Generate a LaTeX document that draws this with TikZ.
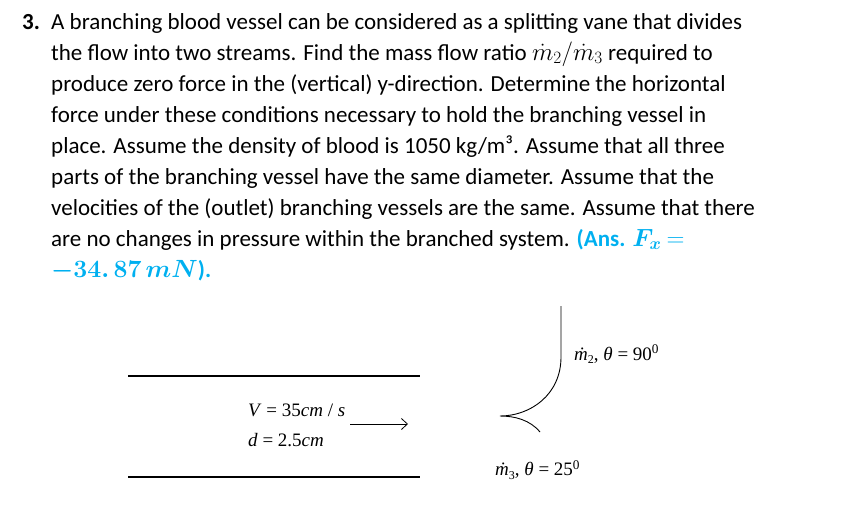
\documentclass[tikz,border=0pt]{standalone}
\usepackage{amsmath}
\usepackage{fontspec}
\setmainfont{Carlito}
\newfontfamily\tnr{Liberation Serif}
\usepackage{bm}
\usetikzlibrary{arrows.meta}
\definecolor{ansblue}{RGB}{0,176,240}
\newcommand{\mdt}[1]{\textit{\.m}\raisebox{-0.35ex}{\fontsize{12}{12}\selectfont #1}}
\begin{document}
\begin{tikzpicture}[x=1pt,y=-1pt,
  ln/.style={anchor=base west,inner sep=0pt,font=\fontsize{23}{27}\selectfont},
  lab/.style={inner sep=0pt,font=\tnr\fontsize{19}{21}\selectfont},
  wall/.style={line width=1.2pt}]
\useasboundingbox (0,0) rectangle (848,531);
\node[ln] (n) at (22,29) {\textbf{3.}};
\node[ln] (l1) at (51,29) {A branching blood vessel can be considered as a splitting vane that divides};
\node[ln] (l2) at (51,60) {the flow into two streams. Find the mass flow ratio $\dot m_2/\dot m_3$ required to};
\node[ln] (l3) at (51,91) {produce zero force in the (vertical) y-direction. Determine the horizontal};
\node[ln] (l4) at (51,122) {force under these conditions necessary to hold the branching vessel in};
\node[ln] (l5) at (51,153) {place. Assume the density of blood is 1050 kg/m³. Assume that all three};
\node[ln] (l6) at (51,184) {parts of the branching vessel have the same diameter. Assume that the};
\node[ln] (l7) at (51,215) {velocities of the (outlet) branching vessels are the same. Assume that there};
\node[ln] (l8) at (51,246) {are no changes in pressure within the branched system. \textcolor{ansblue}{\textbf{(Ans. $\bm{F_x}$} $=$}};
\node[ln,text=ansblue] (l9) at (51,277) {$\bm{-34.\,87\,mN}$\textbf{).}};
\draw[wall] (128,376) coordinate (t1) -- (420,376) coordinate (t2);
\draw[wall] (128,477) coordinate (b1) -- (420,477) coordinate (b2);
\node[lab,anchor=west] (v) at (248,410) {\textit{V} = 35\textit{cm} / \textit{s}};
\node[lab,anchor=west] (d) at (248,440) {\textit{d} = 2.5\textit{cm}};
\coordinate (a1) at (350,424); \coordinate (a2) at (408,424);
\draw[-{Straight Barb[length=6pt,width=11pt]},line width=0.8pt] (a1) -- (a2);
\coordinate (p1) at (561,306); \coordinate (p2) at (561,357);
\coordinate (cusp) at (500,416); \coordinate (p3) at (540,432);
\draw[line width=0.9pt] (p1) -- (p2) .. controls (561,395) and (530,416) .. (cusp)
  .. controls (515,416) and (530,420) .. (p3);
\node[lab,anchor=west] (m2) at (574,354) {\mdt{2}, \textit{θ} = 90\textsuperscript{0}};
\node[lab,anchor=west] (m3) at (495,470) {\mdt{3}, \textit{θ} = 25\textsuperscript{0}};
\end{tikzpicture}
\end{document}
